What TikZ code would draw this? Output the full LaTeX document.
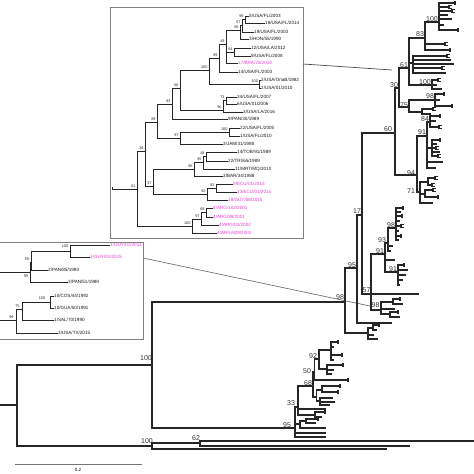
\documentclass[tikz,border=0pt]{standalone}
\usepackage{fontspec}
\setmainfont{Liberation Sans}
\definecolor{mag}{RGB}{230,60,210}
\newcommand\Edge[2]{\draw[tr] (#1) |- (#2);}
\newcommand\IEdge[2]{\draw[itr] (#1) |- (#2);}
\newcommand\Leaf[3]{\draw[tr] (#1) |- (#3,#2);}
\newcommand\LeafT[3]{\draw[tr] (#1) |- (#3,#2) (#3,#2-2) -- (#3,#2+2);}
\newcommand\LeafU[3]{\draw[tr] (#1) |- (#3,#2) (#3+3,#2-1.6) -- (#3,#2-1.6) -- (#3,#2+1.6) -- (#3+2.5,#2+1.6);}
\newcommand\ILeaf[6]{\node[#6] (#2) at (#3,#4) {#5}; \draw[itr] (#1) |- (#2.west);}
\begin{document}
\begin{tikzpicture}[x=1pt,y=-1pt,
  tr/.style={draw=black!85,line width=1.1pt},
  itr/.style={draw=black!85,line width=0.75pt},
  frame/.style={draw=black!50,line width=0.8pt},
  link/.style={draw=black!55,line width=0.7pt},
  bs/.style={font=\fontsize{7}{8}\selectfont,text=black!80,inner sep=0pt},
  ibs/.style={font=\fontsize{3.8}{4}\selectfont,text=black!85,inner sep=0pt},
  lab/.style={font=\fontsize{4.6}{5}\selectfont,text=black!90,anchor=west,inner sep=0.5pt},
  mlab/.style={lab,text=mag}]
\useasboundingbox (0,0) rectangle (474,474);
\fill[white] (0,0) rectangle (474,474);

% ---------- frames and links ----------
\draw[frame] (110,7) rectangle (303,238);
\draw[frame] (-1,242) rectangle (143,339);
\coordinate (c1) at (303,64); \coordinate (c2) at (392,70);
\draw[link,draw=black!70] (c1) -- (c2);
\coordinate (c3) at (143,258); \coordinate (c4) at (370,306);
\draw[link] (c3) -- (c4);

% ---------- main tree ----------
\coordinate (r0) at (0,405); \coordinate (nR) at (17,405);
\draw[tr] (r0) -- (nR);
\coordinate (nA) at (152,365); \coordinate (nB) at (152,446);
\Edge{nR}{nA} \Edge{nR}{nB}
\coordinate (n62) at (200,443);
\Edge{nB}{n62}
\Leaf{nB}{449}{387}
\Leaf{n62}{441}{474}
\Leaf{n62}{446}{410}

\coordinate (n98A) at (345,302); \coordinate (n95c) at (295,428);
\Edge{nA}{n98A} \Edge{nA}{n95c}
\coordinate (n95a) at (357,268); \coordinate (ns) at (368,333);
\Edge{n98A}{n95a} \Edge{n98A}{ns}
\coordinate (n17) at (362,215);
\Edge{n95a}{n17}
\Leaf{n95a}{323}{392}
\coordinate (n60) at (395,133); \coordinate (n57) at (371,294);
\Edge{n17}{n60} \Edge{n17}{n57}
\coordinate (n30) at (399,88); \coordinate (n94) at (417,175);
\Edge{n60}{n30} \Edge{n60}{n94}
\coordinate (n61) at (409,68); \coordinate (n75) at (409,107);
\Edge{n30}{n61} \Edge{n30}{n75}
\coordinate (n83) at (425,38); \coordinate (nm) at (413,63); \coordinate (n100c) at (432,85);
\Edge{n61}{n83} \Edge{n61}{nm} \Edge{n61}{n100c}
\coordinate (n100t) at (439,22);
\Edge{n83}{n100t}
\LeafU{n83}{44}{445} \LeafT{n83}{50}{450}
\LeafT{n100t}{3}{455} \LeafU{n100t}{7}{449} \LeafU{n100t}{11}{452} \Leaf{n100t}{15}{448}
\Leaf{n100t}{19}{452} \Leaf{n100t}{25}{444} \LeafT{n100t}{30}{458}
\LeafU{nm}{56}{447} \Leaf{nm}{60}{451} \Leaf{nm}{64}{454} \LeafU{nm}{68}{442} \Leaf{nm}{73}{446}
\LeafU{n100c}{80}{438} \Leaf{n100c}{85}{437} \Leaf{n100c}{89}{442}
\coordinate (n98t) at (435,100); \coordinate (nn) at (422,112);
\Edge{n75}{n98t} \Edge{n75}{nn}
\LeafT{n98t}{94}{444} \Leaf{n98t}{100}{440} \LeafT{n98t}{106}{452}
\LeafU{nn}{109}{433} \Leaf{nn}{114}{431}

\coordinate (n91) at (427,136); \coordinate (n71) at (420,192);
\Edge{n94}{n91} \Edge{n94}{n71}
\coordinate (n84) at (430,122);
\Edge{n91}{n84}
\LeafT{n84}{116}{440} \Leaf{n84}{121}{436} \LeafU{n84}{127}{439}
\coordinate (nq) at (432,148);
\Edge{n91}{nq}
\LeafT{nq}{140}{440} \Leaf{nq}{144}{437} \LeafU{nq}{148}{436} \Leaf{nq}{152}{440} \LeafU{nq}{156}{438}
\Leaf{n91}{162}{443} \Leaf{n91}{168}{436}
\coordinate (nr) at (428,182); \coordinate (ns2) at (425,194);
\Edge{n71}{nr} \Edge{n71}{ns2}
\LeafU{nr}{178}{435} \LeafU{nr}{185}{432}
\LeafU{ns2}{190}{433} \LeafT{ns2}{197}{438}
\Leaf{n71}{203}{433}

\coordinate (n91a) at (385,254); \coordinate (n98B) at (381,310);
\Edge{n57}{n91a} \Edge{n57}{n98B}
\Leaf{n57}{294}{419}
\coordinate (n93) at (388,243); \coordinate (n91b) at (398,272);
\Edge{n91a}{n93} \Edge{n91a}{n91b}
\Leaf{n91a}{260}{395}
\coordinate (n98c) at (396,228);
\Edge{n93}{n98c}
\Leaf{n93}{246}{393} \Leaf{n93}{251}{391}
\LeafT{n98c}{208}{403} \Leaf{n98c}{212}{401} \LeafT{n98c}{216}{402} \Leaf{n98c}{221}{400}
\LeafU{n98c}{226}{401} \Leaf{n98c}{231}{399} \LeafT{n98c}{236}{401} \Leaf{n98c}{240}{399}
\LeafT{n91b}{265}{404} \Leaf{n91b}{270}{408} \Leaf{n91b}{275}{406} \Leaf{n91b}{280}{403} \Leaf{n91b}{285}{400}
\coordinate (nt) at (393,302); \coordinate (nu2) at (390,314);
\Edge{n98B}{nt} \Edge{n98B}{nu2}
\LeafT{nt}{299}{400} \Leaf{nt}{304}{403}
\Leaf{n98B}{309}{395}
\LeafT{nu2}{312}{398} \Leaf{nu2}{317}{400}
\coordinate (nv2) at (373,328);
\Edge{ns}{nv2}
\LeafT{nv2}{325}{379} \Leaf{nv2}{330}{377}
\Leaf{ns}{335}{374} \Leaf{ns}{339}{378}

\coordinate (n33) at (298,407); \coordinate (nu) at (300,424);
\Edge{n95c}{n33} \Edge{n95c}{nu}
\Leaf{n95c}{433}{326} \Leaf{n95c}{437}{326}
\coordinate (nx) at (306,421);
\Edge{nu}{nx}
\LeafT{nx}{419}{318} \Leaf{nx}{423}{316}
\Leaf{nu}{428}{326}
\coordinate (n68) at (313,386); \coordinate (nv) at (315,415);
\Edge{n33}{n68} \Edge{n33}{nv}
\Leaf{n33}{409}{326}
\LeafT{nv}{412}{325} \Leaf{nv}{417}{322}
\coordinate (n50) at (314.5,372); \coordinate (nw) at (316.5,397);
\Edge{n68}{n50} \Edge{n68}{nw}
\coordinate (n92) at (319,359);
\Edge{n50}{n92}
\LeafT{n50}{380}{348}
\coordinate (na) at (331,350); \coordinate (nb) at (327,369);
\Edge{n92}{na} \Edge{n92}{nb}
\LeafT{na}{342}{338} \Leaf{na}{347}{334} \LeafT{na}{355}{342} \Leaf{na}{360}{334}
\LeafT{nb}{365}{343} \Leaf{nb}{370}{334} \Leaf{nb}{374}{332}
\coordinate (ny) at (322,390); \coordinate (nz) at (320,401);
\Edge{nw}{ny} \Edge{nw}{nz}
\LeafT{ny}{386}{340} \LeafT{ny}{392}{338}
\Leaf{nz}{398}{333} \Leaf{nz}{402}{335} \Leaf{nz}{405}{330}

% main bootstrap values
\node[bs] (b1) at (146,358) {100};
\node[bs] (b2) at (147,441) {100};
\node[bs] (b3) at (196,438) {62};
\node[bs] (b4) at (340,297) {98};
\node[bs] (b5) at (352,265) {95};
\node[bs] (b6) at (357,211) {17};
\node[bs] (b7) at (366.5,290) {57};
\node[bs] (b8) at (375.5,305.5) {98};
\node[bs] (b9) at (388,129) {60};
\node[bs] (b10) at (394,85) {30};
\node[bs] (b11) at (404,65) {61};
\node[bs] (b12) at (404,105) {75};
\node[bs] (b13) at (420,34) {83};
\node[bs] (b14) at (432,19) {100};
\node[bs] (b15) at (425,82) {100};
\node[bs] (b16) at (430,96) {98};
\node[bs] (b17) at (425,119) {84};
\node[bs] (b18) at (422,132) {91};
\node[bs] (b19) at (411,173) {94};
\node[bs] (b20) at (411,191) {71};
\node[bs] (b21) at (380,251) {91};
\node[bs] (b22) at (382,240) {93};
\node[bs] (b23) at (391,225) {98};
\node[bs] (b24) at (393,269) {91};
\node[bs] (b25) at (313,356) {92};
\node[bs] (b26) at (307,371) {50};
\node[bs] (b27) at (308,383) {68};
\node[bs] (b28) at (291,403) {33};
\node[bs] (b29) at (287,425) {95};

% scale bar
\coordinate (s1) at (15,464); \coordinate (s2) at (142,464);
\draw[draw=black!55,line width=0.9pt] (s1) -- (s2);
\node[font=\fontsize{4.6}{5}\selectfont,inner sep=0pt] (s0) at (78,470) {0.2};

% ---------- top inset ----------
\coordinate (iR) at (112,189); \coordinate (i61) at (137,189);
\draw[itr] (112,186.5) -- (iR) -- (i61);
\coordinate (i39) at (145,151); \coordinate (i56) at (157,122); \coordinate (i83) at (172,104);
\coordinate (i66) at (180,88); \coordinate (i100a) at (209,70); \coordinate (i89) at (219,58);
\coordinate (i49) at (226,44); \coordinate (i95) at (240,30); \coordinate (i57) at (242,25);
\coordinate (i99) at (245,19); \coordinate (i64) at (234,52); \coordinate (i100b) at (259.5,84);
\coordinate (i96a) at (223,110); \coordinate (i73) at (226,100); \coordinate (i97a) at (180,138);
\coordinate (i100c) at (229,132); \coordinate (i37) at (153,186); \coordinate (i96b) at (194,169);
\coordinate (i95b) at (203,162); \coordinate (i48) at (206,156); \coordinate (i92) at (207,194);
\coordinate (i82) at (216,188); \coordinate (i100d) at (192,226); \coordinate (i97b) at (201,219);
\coordinate (i68) at (206,212);
\IEdge{i61}{i39} \IEdge{i61}{i100d}
\IEdge{i39}{i56} \IEdge{i39}{i37}
\IEdge{i56}{i83} \IEdge{i56}{i97a}
\IEdge{i83}{i66}
\IEdge{i66}{i100a} \IEdge{i66}{i96a}
\IEdge{i100a}{i89} \IEdge{i100a}{i100b}
\IEdge{i89}{i49}
\IEdge{i49}{i95} \IEdge{i49}{i64}
\IEdge{i95}{i57} \IEdge{i57}{i99}
\IEdge{i96a}{i73}
\IEdge{i97a}{i100c}
\IEdge{i37}{i96b} \IEdge{i37}{i92}
\IEdge{i96b}{i95b} \IEdge{i95b}{i48}
\IEdge{i92}{i82}
\IEdge{i100d}{i97b} \IEdge{i97b}{i68}

\ILeaf{i99}{t1}{248.5}{16}{5/USA/FL/2003}{lab}
\ILeaf{i99}{t2}{264.5}{23}{18/USA/FL/2014}{lab}
\ILeaf{i57}{t3}{253.5}{32}{19/USA/FL/2003}{lab}
\ILeaf{i95}{t4}{248.5}{39}{3/HON/55/1990}{lab}
\ILeaf{i64}{t5}{250.5}{48}{12/USA/LA/2012}{lab}
\ILeaf{i64}{t6}{250.5}{56}{9/USA/FL/2008}{lab}
\ILeaf{i49}{t7}{237.5}{63}{17/BRA/73/2014}{mlab}
\ILeaf{i89}{t8}{237.5}{72}{14/USA/FL/2003}{lab}
\ILeaf{i100b}{t9}{260.5}{80}{2/USA/OnaB/1982}{lab}
\ILeaf{i100b}{t10}{260.5}{88}{2/USA/01/2010}{lab}
\ILeaf{i73}{t11}{236.5}{97}{34/USA/FL/2007}{lab}
\ILeaf{i73}{t12}{236.5}{104}{6/USA/01/2006}{lab}
\ILeaf{i96a}{t13}{242.5}{112}{3/USA/LA/2016}{lab}
\ILeaf{i83}{t14}{227.5}{119}{9/PAN/30/1989}{lab}
\ILeaf{i100c}{t15}{239.5}{128}{22/USA/FL/2005}{lab}
\ILeaf{i100c}{t16}{239.5}{136}{1/USA/FL/2010}{lab}
\ILeaf{i97a}{t17}{222.5}{144}{3/JAM/31/1988}{lab}
\ILeaf{i48}{t18}{236.5}{152}{14/TOB/91/1989}{lab}
\ILeaf{i48}{t19}{227.5}{161}{22/TRI/65/1989}{lab}
\ILeaf{i95b}{t20}{234.5}{169}{11/MRT/MQ/2010}{lab}
\ILeaf{i96b}{t21}{222.5}{176}{3/BAR/34/1988}{lab}
\ILeaf{i82}{t22}{232.5}{184}{9/ECU/01/2015}{mlab}
\ILeaf{i82}{t23}{236.5}{192}{13/ECU/01/2015}{mlab}
\ILeaf{i92}{t24}{227.5}{200}{18/GUY/58/2015}{mlab}
\ILeaf{i68}{t25}{212.5}{208}{4/ARG/102/2001}{mlab}
\ILeaf{i68}{t26}{212.5}{217}{4/ARG/99/2001}{mlab}
\ILeaf{i97b}{t27}{218.5}{225}{4/ARG/01/2002}{mlab}
\ILeaf{i100d}{t28}{216.5}{233}{4/ARG/829/2001}{mlab}

\node[ibs] (u1) at (241.4,16.5) {99};
\node[ibs] (u2) at (238.4,22.5) {57};
\node[ibs] (u3) at (236.4,27.5) {95};
\node[ibs] (u4) at (222.4,41.5) {49};
\node[ibs] (u5) at (230.4,49.5) {64};
\node[ibs] (u6) at (215.4,55.5) {89};
\node[ibs] (u7) at (204.3,67.5) {100};
\node[ibs] (u8) at (176.4,85.5) {66};
\node[ibs] (u9) at (168.4,101.5) {83};
\node[ibs] (u10) at (153.4,119.5) {89};
\node[ibs] (u11) at (141.4,148.5) {39};
\node[ibs] (u12) at (133.4,186.5) {61};
\node[ibs] (u13) at (149.4,183.5) {37};
\node[ibs] (u14) at (254.8,81.5) {100};
\node[ibs] (u15) at (222.4,97.5) {73};
\node[ibs] (u16) at (219.4,107.5) {96};
\node[ibs] (u17) at (224.3,129.5) {100};
\node[ibs] (u18) at (176.4,135.5) {97};
\node[ibs] (u19) at (202.4,153.5) {48};
\node[ibs] (u20) at (199.4,159.5) {95};
\node[ibs] (u21) at (190.4,166.5) {96};
\node[ibs] (u22) at (212.4,185.5) {82};
\node[ibs] (u23) at (203.4,191.5) {92};
\node[ibs] (u24) at (202.4,209.5) {68};
\node[ibs] (u25) at (197.4,216.5) {97};
\node[ibs] (u26) at (187.3,223.5) {100};

% ---------- lower inset ----------
\coordinate (gS1) at (0,272); \coordinate (gS2) at (0,320);
\coordinate (g99) at (30.5,272); \coordinate (g59) at (31.5,262); \coordinate (g100) at (70,251);
\coordinate (h99) at (16,320); \coordinate (h75) at (22,309); \coordinate (h100) at (50,302);
\draw[itr] (gS1) -- (g99);
\draw[itr] (gS2) -- (h99);
\IEdge{g99}{g59} \IEdge{g59}{g100}
\IEdge{h99}{h75} \IEdge{h75}{h100}
\ILeaf{g100}{v1}{109.5}{245}{1/GUY/01/2011}{mlab}
\ILeaf{g100}{v2}{89.5}{257}{1/GUY/01/2015}{mlab}
\ILeaf{g59}{v3}{47.5}{270}{2/PAN/85/1990}{lab}
\ILeaf{g99}{v4}{67.5}{282}{3/PAN/51/1989}{lab}
\ILeaf{h100}{v5}{53.5}{296}{10/COS/44/1992}{lab}
\ILeaf{h100}{v6}{53.5}{308}{10/GUA/50/1991}{lab}
\ILeaf{h75}{v7}{53.5}{320}{1/SAL/70/1990}{lab}
\ILeaf{h99}{v8}{57.5}{333}{3/USA/TX/2015}{lab}
\node[ibs] (w1) at (65,246.5) {100};
\node[ibs] (w2) at (27,259.5) {59};
\node[ibs] (w3) at (26,276) {99};
\node[ibs] (w4) at (42,298.5) {100};
\node[ibs] (w5) at (17.5,306) {75};
\node[ibs] (w6) at (11.5,317) {99};
\end{tikzpicture}
\end{document}
